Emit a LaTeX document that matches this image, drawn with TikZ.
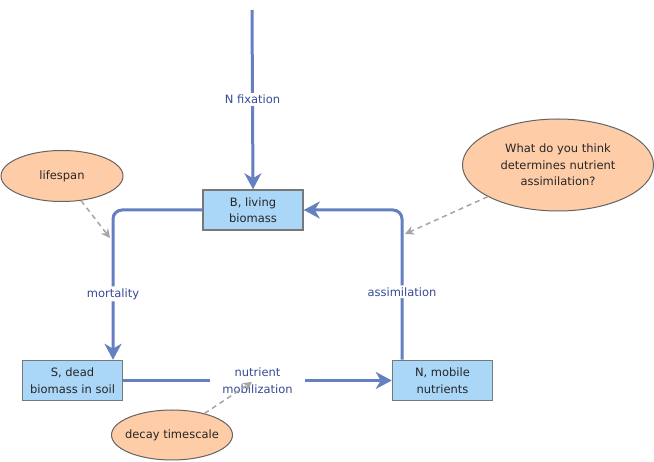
\documentclass[tikz,border=0pt]{standalone}
\usepackage{fontspec}
\setmainfont{DejaVu Sans}
\usetikzlibrary{arrows.meta,shapes.geometric}
\definecolor{flowblue}{RGB}{100,128,192}
\definecolor{boxfill}{RGB}{170,214,248}
\definecolor{boxborder}{RGB}{120,120,120}
\definecolor{ovalfill}{RGB}{255,204,168}
\definecolor{ovalborder}{RGB}{100,100,100}
\definecolor{lblblue}{RGB}{55,75,150}
\definecolor{dashgray}{RGB}{165,165,165}
\begin{document}
\begin{tikzpicture}[x=1pt,y=-1pt,
  txt/.style={font=\fontsize{11.5}{16.5}\selectfont, text=black!85},
  stockbox/.style={txt, draw=boxborder, line width=1.5pt, fill=boxfill, minimum width=100pt, minimum height=40pt, align=center, inner sep=0pt},
  oval/.style={txt, ellipse, draw=ovalborder, fill=ovalfill, line width=1pt, align=center, inner sep=0pt},
  flow/.style={draw=flowblue, line width=3pt, -{Stealth[length=16pt,width=17pt,inset=5pt]}},
  lbl/.style={font=\fontsize{11.5}{16.5}\selectfont, fill=white, text=lblblue, align=center, inner sep=2pt},
  infl/.style={draw=dashgray, line width=1.5pt, dash pattern=on 5pt off 4pt, -{Stealth[length=9pt,width=9pt,inset=3pt]}}
]
\useasboundingbox (0,0) rectangle (654,462);
\node[stockbox] (B) at (253,210) {B, living\\biomass};
\node[stockbox] (S) at (72.5,380.5) {S, dead\\biomass in soil};
\node[stockbox] (N) at (442.5,380.5) {N, mobile\\nutrients};
\node[oval, minimum width=122pt, minimum height=51pt] (life) at (62,176) {lifespan};
\node[oval, minimum width=191pt, minimum height=92pt] (q) at (558,165) {What do you think\\determines nutrient\\assimilation?};
\node[oval, minimum width=121pt, minimum height=50pt, inner xsep=-5pt] (decay) at (172,435) {decay timescale};
\coordinate (top) at (252,10);
\coordinate (c1) at (110,238);
\coordinate (c2) at (405,234);
\coordinate (c3) at (252,382);
\draw[flow] (top) -- node[lbl]{N fixation} (B.north);
\draw[flow, rounded corners=9pt] (B.west) -| node[lbl, pos=0.78]{mortality} ([xshift=40.5pt]S.north);
\draw[flow, rounded corners=9pt] ([xshift=-40.5pt]N.north) |- node[lbl, pos=0.227]{assimilation} (B.east);
\draw[flow] (S.east) -- node[lbl, inner xsep=12pt]{nutrient\\mobilization} (N.west);
\draw[infl] (life) -- (c1);
\draw[infl] (q) -- (c2);
\draw[infl] (decay) -- (c3);
\end{tikzpicture}
\end{document}
